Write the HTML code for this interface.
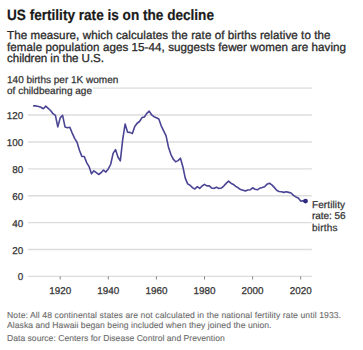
<!DOCTYPE html>
<html><head><meta charset="utf-8"><style>
html,body{margin:0;padding:0;background:#fff;}
body{width:363px;height:350px;overflow:hidden;}
svg{display:block;font-family:"Liberation Sans",sans-serif;text-rendering:geometricPrecision;}
.g{stroke:#dcdcdc;stroke-width:1.4;}
.t{stroke:#858585;stroke-width:1;}
.yl{font-size:9.9px;fill:#333;stroke:#333;stroke-width:0.25px;}
.ttl{font-size:15px;font-weight:bold;fill:#1a1a1a;stroke:#1a1a1a;stroke-width:0.2px;}
.sub{font-size:11.6px;fill:#2a2a2a;stroke:#2a2a2a;stroke-width:0.3px;}
.ax{font-size:10px;fill:#333;stroke:#333;stroke-width:0.25px;}
.note{font-size:8.6px;fill:#6e6e6e;stroke:#6e6e6e;stroke-width:0.12px;}
.ann{font-size:10px;fill:#333;stroke:#333;stroke-width:0.25px;}
.ylb{font-size:9.9px;fill:#333;stroke:#333;stroke-width:0.25px;}
</style></head><body>
<svg width="363" height="350" viewBox="0 0 363 350">
<rect width="363" height="350" fill="#fff"/>
<text x="7" y="19.8" class="ttl" textLength="207.00" lengthAdjust="spacingAndGlyphs">US fertility rate is on the decline</text>
<text x="7" y="39.3" class="sub" textLength="323.50" lengthAdjust="spacing">The measure, which calculates the rate of births relative to the</text>
<text x="7" y="50.5" class="sub" textLength="339.00" lengthAdjust="spacing">female population ages 15-44, suggests fewer women are having</text>
<text x="7" y="61.8" class="sub" textLength="97.00" lengthAdjust="spacing">children in the U.S.</text>
<line x1="28" x2="311.8" y1="88.16" y2="88.16" class="g"/>
<line x1="28" x2="311.8" y1="115.05" y2="115.05" class="g"/>
<line x1="28" x2="311.8" y1="141.94" y2="141.94" class="g"/>
<line x1="28" x2="311.8" y1="168.83" y2="168.83" class="g"/>
<line x1="28" x2="311.8" y1="195.72" y2="195.72" class="g"/>
<line x1="28" x2="311.8" y1="222.62" y2="222.62" class="g"/>
<line x1="28" x2="311.8" y1="249.51" y2="249.51" class="g"/>
<line x1="28" x2="311.8" y1="276.40" y2="276.40" class="g"/>
<rect x="6" y="84" width="87" height="12" fill="#fff"/>
<text x="7" y="82.6" class="ax" textLength="111.30" lengthAdjust="spacing">140 births per 1K women</text>
<text x="7" y="93.5" class="ax" textLength="85.00" lengthAdjust="spacing">of childbearing age</text>
<text x="23.2" y="119.05" text-anchor="end" class="ylb">120</text>
<text x="23.2" y="145.94" text-anchor="end" class="ylb">100</text>
<text x="23.2" y="172.83" text-anchor="end" class="ylb">80</text>
<text x="23.2" y="199.72" text-anchor="end" class="ylb">60</text>
<text x="23.2" y="226.62" text-anchor="end" class="ylb">40</text>
<text x="23.2" y="253.51" text-anchor="end" class="ylb">20</text>
<text x="23.2" y="280.40" text-anchor="end" class="ylb">0</text>
<line x1="60.20" x2="60.20" y1="276.40" y2="279.50" class="t"/>
<line x1="108.30" x2="108.30" y1="276.40" y2="279.50" class="t"/>
<line x1="156.40" x2="156.40" y1="276.40" y2="279.50" class="t"/>
<line x1="204.50" x2="204.50" y1="276.40" y2="279.50" class="t"/>
<line x1="252.60" x2="252.60" y1="276.40" y2="279.50" class="t"/>
<line x1="300.70" x2="300.70" y1="276.40" y2="279.50" class="t"/>
<text x="60.20" y="293.9" text-anchor="middle" class="yl">1920</text>
<text x="108.30" y="293.9" text-anchor="middle" class="yl">1940</text>
<text x="156.40" y="293.9" text-anchor="middle" class="yl">1960</text>
<text x="204.50" y="293.9" text-anchor="middle" class="yl">1980</text>
<text x="252.60" y="293.9" text-anchor="middle" class="yl">2000</text>
<text x="300.70" y="293.9" text-anchor="middle" class="yl">2020</text>
<polyline points="33.75,105.90 36.15,105.90 38.56,106.58 40.96,107.25 43.37,108.73 45.77,106.17 48.18,108.32 50.58,110.48 52.98,113.70 55.39,115.32 57.80,126.88 60.20,117.87 62.61,115.32 65.01,126.88 67.42,127.82 69.82,127.28 72.22,133.07 74.63,138.44 77.03,142.21 79.44,150.28 81.84,156.33 84.25,156.46 86.66,162.65 89.06,166.55 91.47,173.81 93.87,170.85 96.28,172.60 98.68,174.48 101.09,172.73 103.49,170.04 105.89,172.06 108.30,168.97 110.70,164.26 113.11,153.37 115.52,149.60 117.92,157.00 120.32,160.90 122.73,139.39 125.13,124.06 127.54,132.12 129.94,132.39 132.35,133.60 134.75,126.48 137.16,123.25 139.56,121.50 141.97,117.60 144.38,117.06 146.78,113.43 149.19,111.15 151.59,114.78 154.00,116.66 156.40,117.74 158.81,118.95 161.21,125.80 163.62,130.78 166.02,135.62 168.43,146.92 170.83,154.31 173.24,159.15 175.64,161.84 178.04,160.63 180.45,158.21 182.85,166.68 185.26,178.11 187.66,183.89 190.07,185.24 192.47,187.66 194.88,189.00 197.28,186.58 199.69,188.33 202.09,186.04 204.50,184.43 206.90,185.91 209.31,185.91 211.71,188.06 214.12,188.33 216.52,187.25 218.93,188.46 221.33,188.06 223.74,186.04 226.14,183.35 228.55,181.07 230.95,183.22 233.36,184.43 235.76,186.31 238.17,187.79 240.57,189.54 242.98,190.21 245.38,190.88 247.79,189.94 250.19,189.81 252.60,187.79 255.00,189.27 257.41,189.81 259.81,188.19 262.22,187.52 264.62,186.72 267.03,184.16 269.44,183.22 271.84,184.83 274.25,187.39 276.65,190.21 279.06,191.42 281.46,191.69 283.87,192.36 286.27,191.82 288.68,192.36 291.08,193.03 293.48,195.32 295.89,196.93 298.29,198.01 300.70,201.10 303.10,200.70 305.51,201.10" fill="none" stroke="#4a4494" stroke-width="1.6" stroke-linejoin="round" stroke-linecap="round"/>
<circle cx="305.51" cy="201.10" r="2.4" fill="#30297f"/>
<text x="312" y="207.5" class="ann" textLength="33.00" lengthAdjust="spacing">Fertility</text>
<text x="312" y="219.2" class="ann" textLength="33.50" lengthAdjust="spacing">rate: 56</text>
<text x="312" y="230.8" class="ann" textLength="25.50" lengthAdjust="spacing">births</text>
<text x="7" y="317.6" class="note" textLength="334.00" lengthAdjust="spacing">Note: All 48 continental states are not calculated in the national fertility rate until 1933.</text>
<text x="7" y="327.5" class="note" textLength="264.50" lengthAdjust="spacing">Alaska and Hawaii began being included when they joined the union.</text>
<text x="7" y="341" class="note" textLength="217.70" lengthAdjust="spacing">Data source: Centers for Disease Control and Prevention</text>
</svg>
</body></html>
